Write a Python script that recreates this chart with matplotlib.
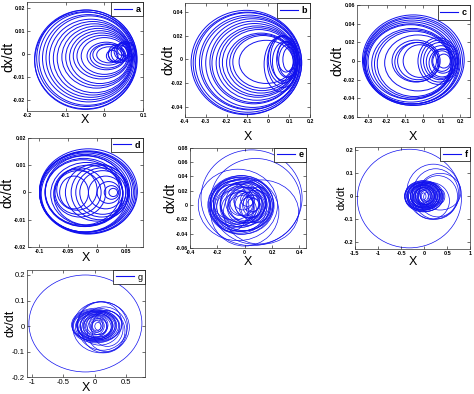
import matplotlib
matplotlib.use("Agg")
import matplotlib.pyplot as plt
from matplotlib.patches import Ellipse
from matplotlib.lines import Line2D

# loops: (centre x, centre y, width, height)
loops_a = [
    (-0.048, -0.0025, 0.265, 0.043), (-0.049, -0.003, 0.262, 0.0425),
    (-0.046, -0.002, 0.258, 0.042), (-0.044, -0.0022, 0.250, 0.0405),
    (-0.041, -0.002, 0.238, 0.038), (-0.038, -0.0018, 0.226, 0.0365),
    (-0.035, -0.002, 0.215, 0.034),
    (-0.030, -0.002, 0.204, 0.032), (-0.026, -0.002, 0.192, 0.030),
    (-0.020, -0.0015, 0.180, 0.027),
    (-0.016, -0.0015, 0.168, 0.025), (-0.012, -0.0015, 0.156, 0.023),
    (-0.008, -0.001, 0.145, 0.020),
    (-0.004, -0.001, 0.134, 0.018), (0.000, -0.001, 0.120, 0.016),
    (0.005, -0.001, 0.100, 0.012), (0.008, -0.001, 0.090, 0.0105),
    (0.010, -0.0005, 0.080, 0.009), (0.0125, -0.0005, 0.065, 0.007),
    (0.035, 0.000, 0.050, 0.008), (0.045, 0.001, 0.040, 0.007),
    (0.050, 0.002, 0.034, 0.006), (0.020, -0.001, 0.030, 0.005),
    (0.055, 0.001, 0.050, 0.0085), (0.040, 0.000, 0.045, 0.0075),
    (0.030, -0.0005, 0.040, 0.006), (0.060, 0.0015, 0.035, 0.006),
]
loops_b = [
    (-0.105, -0.0025, 0.53, 0.087), (-0.100, -0.003, 0.52, 0.085),
    (-0.0975, -0.0025, 0.505, 0.083), (-0.090, -0.0025, 0.48, 0.079),
    (-0.085, -0.003, 0.47, 0.077),
    (-0.075, -0.003, 0.45, 0.074), (-0.070, -0.0025, 0.42, 0.069),
    (-0.065, -0.003, 0.41, 0.066),
    (-0.055, -0.003, 0.39, 0.062), (-0.050, -0.0025, 0.37, 0.058),
    (-0.045, -0.0025, 0.35, 0.055), (-0.035, -0.003, 0.33, 0.050),
    (-0.030, -0.0025, 0.31, 0.047),
    (-0.025, -0.002, 0.29, 0.044), (-0.010, -0.002, 0.26, 0.036),
    (0.070, 0.000, 0.14, 0.040), (0.080, -0.002, 0.12, 0.034),
    (0.090, 0.000, 0.10, 0.030), (0.085, 0.002, 0.08, 0.025),
    (0.100, 0.000, 0.06, 0.020), (0.060, -0.004, 0.16, 0.046),
    (0.075, 0.001, 0.13, 0.037), (0.095, -0.001, 0.09, 0.027),
    (0.070, -0.002, 0.15, 0.043),
]
loops_c = [
    (-0.055, 0.001, 0.55, 0.097), (-0.057, 0.000, 0.535, 0.095),
    (-0.060, 0.000, 0.52, 0.092), (-0.062, -0.001, 0.51, 0.090),
    (-0.065, -0.002, 0.50, 0.088), (-0.068, -0.002, 0.48, 0.084),
    (-0.070, -0.001, 0.46, 0.080),
    (-0.060, -0.003, 0.44, 0.076), (-0.055, -0.003, 0.42, 0.073),
    (-0.050, -0.003, 0.40, 0.070), (-0.030, -0.002, 0.36, 0.060),
    (-0.040, 0.000, 0.26, 0.045), (-0.035, -0.001, 0.24, 0.042),
    (-0.030, 0.000, 0.22, 0.040), (-0.020, 0.000, 0.18, 0.035),
    (0.080, 0.000, 0.22, 0.050), (0.085, 0.000, 0.20, 0.045),
    (0.090, 0.000, 0.18, 0.040), (0.095, -0.001, 0.16, 0.035),
    (0.100, -0.002, 0.14, 0.030), (0.105, 0.000, 0.12, 0.026),
    (0.100, 0.000, 0.10, 0.022), (0.110, 0.000, 0.07, 0.015),
]
loops_d = [
    (-0.015, 0.0005, 0.170, 0.031), (-0.016, 0.000, 0.168, 0.0305),
    (-0.017, 0.000, 0.165, 0.030), (-0.018, 0.0002, 0.162, 0.0295),
    (-0.020, 0.000, 0.160, 0.029), (-0.021, -0.0003, 0.155, 0.0285),
    (-0.022, -0.0005, 0.150, 0.028), (-0.020, 0.0005, 0.140, 0.026),
    (-0.023, 0.000, 0.135, 0.025), (-0.025, 0.000, 0.130, 0.024),
    (-0.018, -0.0005, 0.125, 0.023), (-0.015, -0.001, 0.120, 0.022),
    (-0.030, 0.000, 0.090, 0.018), (-0.033, 0.000, 0.080, 0.016),
    (-0.035, 0.001, 0.070, 0.015), (-0.040, 0.000, 0.050, 0.012),
    (0.000, 0.000, 0.110, 0.021), (0.005, 0.000, 0.100, 0.020),
    (0.008, 0.000, 0.090, 0.018), (0.010, 0.000, 0.080, 0.016),
    (0.015, 0.000, 0.060, 0.012),
    (0.020, 0.000, 0.040, 0.008), (0.025, 0.000, 0.025, 0.005),
    (0.028, 0.000, 0.015, 0.003),
]
loops_e = [
    (-0.03, 0.000, 0.48, 0.082), (-0.02, 0.002, 0.46, 0.078),
    (-0.04, -0.002, 0.44, 0.075), (-0.01, 0.000, 0.42, 0.072),
    (-0.05, 0.003, 0.40, 0.070), (-0.03, -0.004, 0.38, 0.066),
    (0.00, 0.002, 0.36, 0.062), (-0.06, 0.000, 0.34, 0.060),
    (-0.02, -0.003, 0.32, 0.056), (0.01, 0.004, 0.30, 0.052),
    (-0.04, 0.001, 0.28, 0.050), (0.02, -0.002, 0.26, 0.046),
    (-0.05, -0.005, 0.24, 0.044), (0.00, 0.005, 0.22, 0.040),
    (0.03, 0.000, 0.20, 0.036), (-0.03, 0.002, 0.18, 0.034),
    (0.04, -0.004, 0.16, 0.030), (-0.01, 0.006, 0.14, 0.026),
    (0.05, 0.002, 0.12, 0.024), (0.02, 0.008, 0.10, 0.020),
    (0.06, 0.000, 0.09, 0.018), (-0.08, 0.004, 0.30, 0.050),
    (0.08, -0.002, 0.22, 0.045), (-0.10, -0.002, 0.26, 0.070),
    (0.10, 0.000, 0.18, 0.050),
    (-0.02, -0.001, 0.47, 0.080), (-0.04, 0.001, 0.45, 0.076),
    (0.00, -0.002, 0.41, 0.068), (-0.06, 0.002, 0.37, 0.064),
    (-0.01, 0.003, 0.33, 0.058), (0.02, 0.000, 0.29, 0.050),
    (-0.07, -0.003, 0.27, 0.048), (0.04, 0.003, 0.23, 0.042),
    (-0.02, -0.006, 0.21, 0.038), (0.06, -0.001, 0.15, 0.030),
    (0.05, 0.010, 0.74, 0.134), (0.08, 0.005, 0.66, 0.120),
    (0.12, -0.010, 0.55, 0.090), (-0.05, 0.000, 0.58, 0.100),
    (0.00, -0.010, 0.50, 0.095),
]
loops_f = [
    (0.00, 0.000, 0.85, 0.135), (-0.02, 0.003, 0.80, 0.130),
    (0.02, -0.003, 0.78, 0.125), (-0.04, 0.000, 0.74, 0.120),
    (0.00, 0.005, 0.70, 0.115), (0.03, 0.000, 0.66, 0.110),
    (-0.03, -0.004, 0.62, 0.105), (0.00, 0.002, 0.58, 0.100),
    (0.04, 0.003, 0.54, 0.095), (-0.05, 0.000, 0.50, 0.090),
    (0.00, -0.003, 0.46, 0.085), (0.02, 0.004, 0.42, 0.080),
    (-0.02, 0.000, 0.38, 0.075), (0.05, -0.002, 0.34, 0.070),
    (0.00, 0.003, 0.30, 0.065), (-0.03, -0.002, 0.26, 0.060),
    (0.03, 0.000, 0.22, 0.050), (0.00, 0.002, 0.18, 0.045),
    (0.06, -0.003, 0.14, 0.040), (-0.01, 0.000, 0.10, 0.030),
    (-0.01, -0.002, 0.82, 0.132), (0.01, 0.002, 0.76, 0.122),
    (-0.02, -0.001, 0.72, 0.118), (0.02, 0.003, 0.64, 0.108),
    (-0.04, 0.001, 0.60, 0.102), (0.01, -0.002, 0.56, 0.098),
    (-0.02, 0.004, 0.48, 0.088), (0.03, -0.001, 0.44, 0.082),
    (-0.01, 0.001, 0.36, 0.072), (0.02, -0.004, 0.32, 0.068),
    (0.35, 0.000, 0.20, 0.060),
    (0.20, 0.020, 1.15, 0.240), (0.25, 0.010, 1.00, 0.220),
    (0.30, 0.000, 0.85, 0.180), (0.35, 0.020, 0.90, 0.160),
    (0.15, -0.020, 0.80, 0.160),
    (-0.32, -0.010, 2.26, 0.430),
]
loops_g = [
    (0.03, 0.005, 0.80, 0.130), (0.01, 0.003, 0.74, 0.125),
    (0.04, -0.003, 0.70, 0.120), (-0.01, 0.000, 0.66, 0.115),
    (0.02, 0.006, 0.62, 0.112), (0.05, 0.000, 0.58, 0.108),
    (-0.01, -0.004, 0.54, 0.102), (0.02, 0.003, 0.50, 0.097),
    (0.06, 0.003, 0.46, 0.092), (-0.02, 0.000, 0.42, 0.088),
    (0.01, -0.003, 0.38, 0.082), (0.04, 0.004, 0.34, 0.076),
    (0.00, 0.000, 0.30, 0.070), (0.06, -0.002, 0.26, 0.064),
    (0.02, 0.003, 0.22, 0.056), (0.04, 0.000, 0.18, 0.048),
    (0.03, 0.001, 0.14, 0.040), (0.05, -0.001, 0.10, 0.030),
    (0.02, -0.002, 0.76, 0.128), (0.03, 0.002, 0.64, 0.114),
    (0.00, 0.001, 0.56, 0.104), (0.05, -0.002, 0.48, 0.094),
    (0.10, -0.005, 0.90, 0.200), (0.12, 0.000, 0.80, 0.190),
    (0.08, 0.010, 0.70, 0.170), (0.18, -0.020, 0.60, 0.160),
    (0.20, -0.010, 0.50, 0.140), (0.15, -0.015, 0.72, 0.180),
    (-0.15, 0.010, 1.80, 0.380),
]

letters = ["a", "b", "c", "d", "e", "f", "g"]

xlim_a, ylim_a = (-0.2, 0.1), (-0.025, 0.0225)
xlim_b, ylim_b = (-0.4, 0.2), (-0.048, 0.047)
xlim_c, ylim_c = (-0.36, 0.25), (-0.06, 0.06)
xlim_d, ylim_d = (-0.12, 0.08), (-0.02, 0.02)
xlim_e, ylim_e = (-0.4, 0.45), (-0.06, 0.08)
xlim_f, ylim_f = (-1.5, 1.0), (-0.23, 0.215)
xlim_g, ylim_g = (-1.08, 0.8), (-0.2, 0.22)

xt_a, yt_a = [-0.2, -0.1, 0, 0.1], [-0.02, -0.01, 0, 0.01, 0.02]
xt_b, yt_b = [-0.4, -0.3, -0.2, -0.1, 0, 0.1, 0.2], [-0.04, -0.02, 0, 0.02, 0.04]
xt_c, yt_c = [-0.3, -0.2, -0.1, 0, 0.1, 0.2], [-0.06, -0.04, -0.02, 0, 0.02, 0.04, 0.06]
xt_d, yt_d = [-0.1, -0.05, 0, 0.05], [-0.02, -0.01, 0, 0.01, 0.02]
xt_e, yt_e = [-0.4, -0.2, 0, 0.2, 0.4], [-0.06, -0.04, -0.02, 0, 0.02, 0.04, 0.06, 0.08]
xt_f, yt_f = [-1.5, -1, -0.5, 0, 0.5, 1], [-0.2, -0.1, 0, 0.1, 0.2]
xt_g, yt_g = [-1, -0.5, 0, 0.5], [-0.2, -0.1, 0, 0.1, 0.2]

BLUE = "#1010ee"

# posicion [l, b, w, h], x del ylabel, y del xlabel, tamanio ticks, tamanio ylabel, grosor linea
layout = {
    "a": ([0.057, 0.718, 0.245, 0.277], -0.16, -0.08, 3.8, 10, 0.7),
    "b": ([0.390, 0.703, 0.264, 0.289], -0.13, -0.175, 3.8, 10, 0.7),
    "c": ([0.753, 0.703, 0.238, 0.284], -0.175, -0.18, 3.8, 10, 0.7),
    "d": ([0.059, 0.373, 0.243, 0.277], -0.175, -0.10, 3.8, 10, 0.7),
    "e": ([0.401, 0.371, 0.245, 0.254], -0.172, -0.14, 3.8, 10, 0.5),
    "f": ([0.749, 0.368, 0.243, 0.259], -0.12, -0.127, 4.0, 8, 0.5),
    "g": ([0.057, 0.043, 0.249, 0.272], -0.144, -0.10, 5.5, 9, 0.5),
}

data = {
    "a": (loops_a, xlim_a, ylim_a, xt_a, yt_a),
    "b": (loops_b, xlim_b, ylim_b, xt_b, yt_b),
    "c": (loops_c, xlim_c, ylim_c, xt_c, yt_c),
    "d": (loops_d, xlim_d, ylim_d, xt_d, yt_d),
    "e": (loops_e, xlim_e, ylim_e, xt_e, yt_e),
    "f": (loops_f, xlim_f, ylim_f, xt_f, yt_f),
    "g": (loops_g, xlim_g, ylim_g, xt_g, yt_g),
}

plt.rcParams["font.family"] = ["Liberation Sans", "DejaVu Sans"]

fig = plt.figure(figsize=(4.74, 3.94), dpi=100)

for letter in letters:
    loops, xlim, ylim, xt, yt = data[letter]
    pos, ylx, xly, tsize, lsize, lw = layout[letter]
    ax = fig.add_axes(pos)
    for cx, cy, w, h in loops:
        ax.add_patch(Ellipse((cx, cy), w, h, fill=False, ec=BLUE, lw=lw))
    ax.set_xlim(xlim)
    ax.set_ylim(ylim)
    ax.set_xticks(xt, [f"{v:g}" for v in xt])
    ax.set_yticks(yt, [f"{v:g}" for v in yt])
    weight = "normal" if letter == "g" else "bold"
    ax.tick_params(direction="in", top=True, right=True, length=2, width=0.4,
                   labelsize=tsize, pad=1.5)
    for lab in ax.get_xticklabels() + ax.get_yticklabels():
        lab.set_fontweight(weight)
    for sp in ax.spines.values():
        sp.set_linewidth(0.5)
        sp.set_color("#333333")

    ax.set_xlabel("X", fontsize=9, va="center")
    ax.xaxis.set_label_coords(0.5, xly)
    ax.set_ylabel("dx/dt", fontsize=lsize, va="center")
    ax.yaxis.set_label_coords(ylx, 0.5)

    leg = ax.legend([Line2D([], [], color=BLUE, lw=0.8)], [letter], loc="upper right",
                    handlelength=2.0, handletextpad=0.4, borderpad=0.3,
                    borderaxespad=0, fancybox=False, framealpha=1, edgecolor="black",
                    prop={"weight": weight, "size": 6.5})
    leg.get_frame().set_linewidth(0.5)

fig.savefig("out.png", dpi=100)
